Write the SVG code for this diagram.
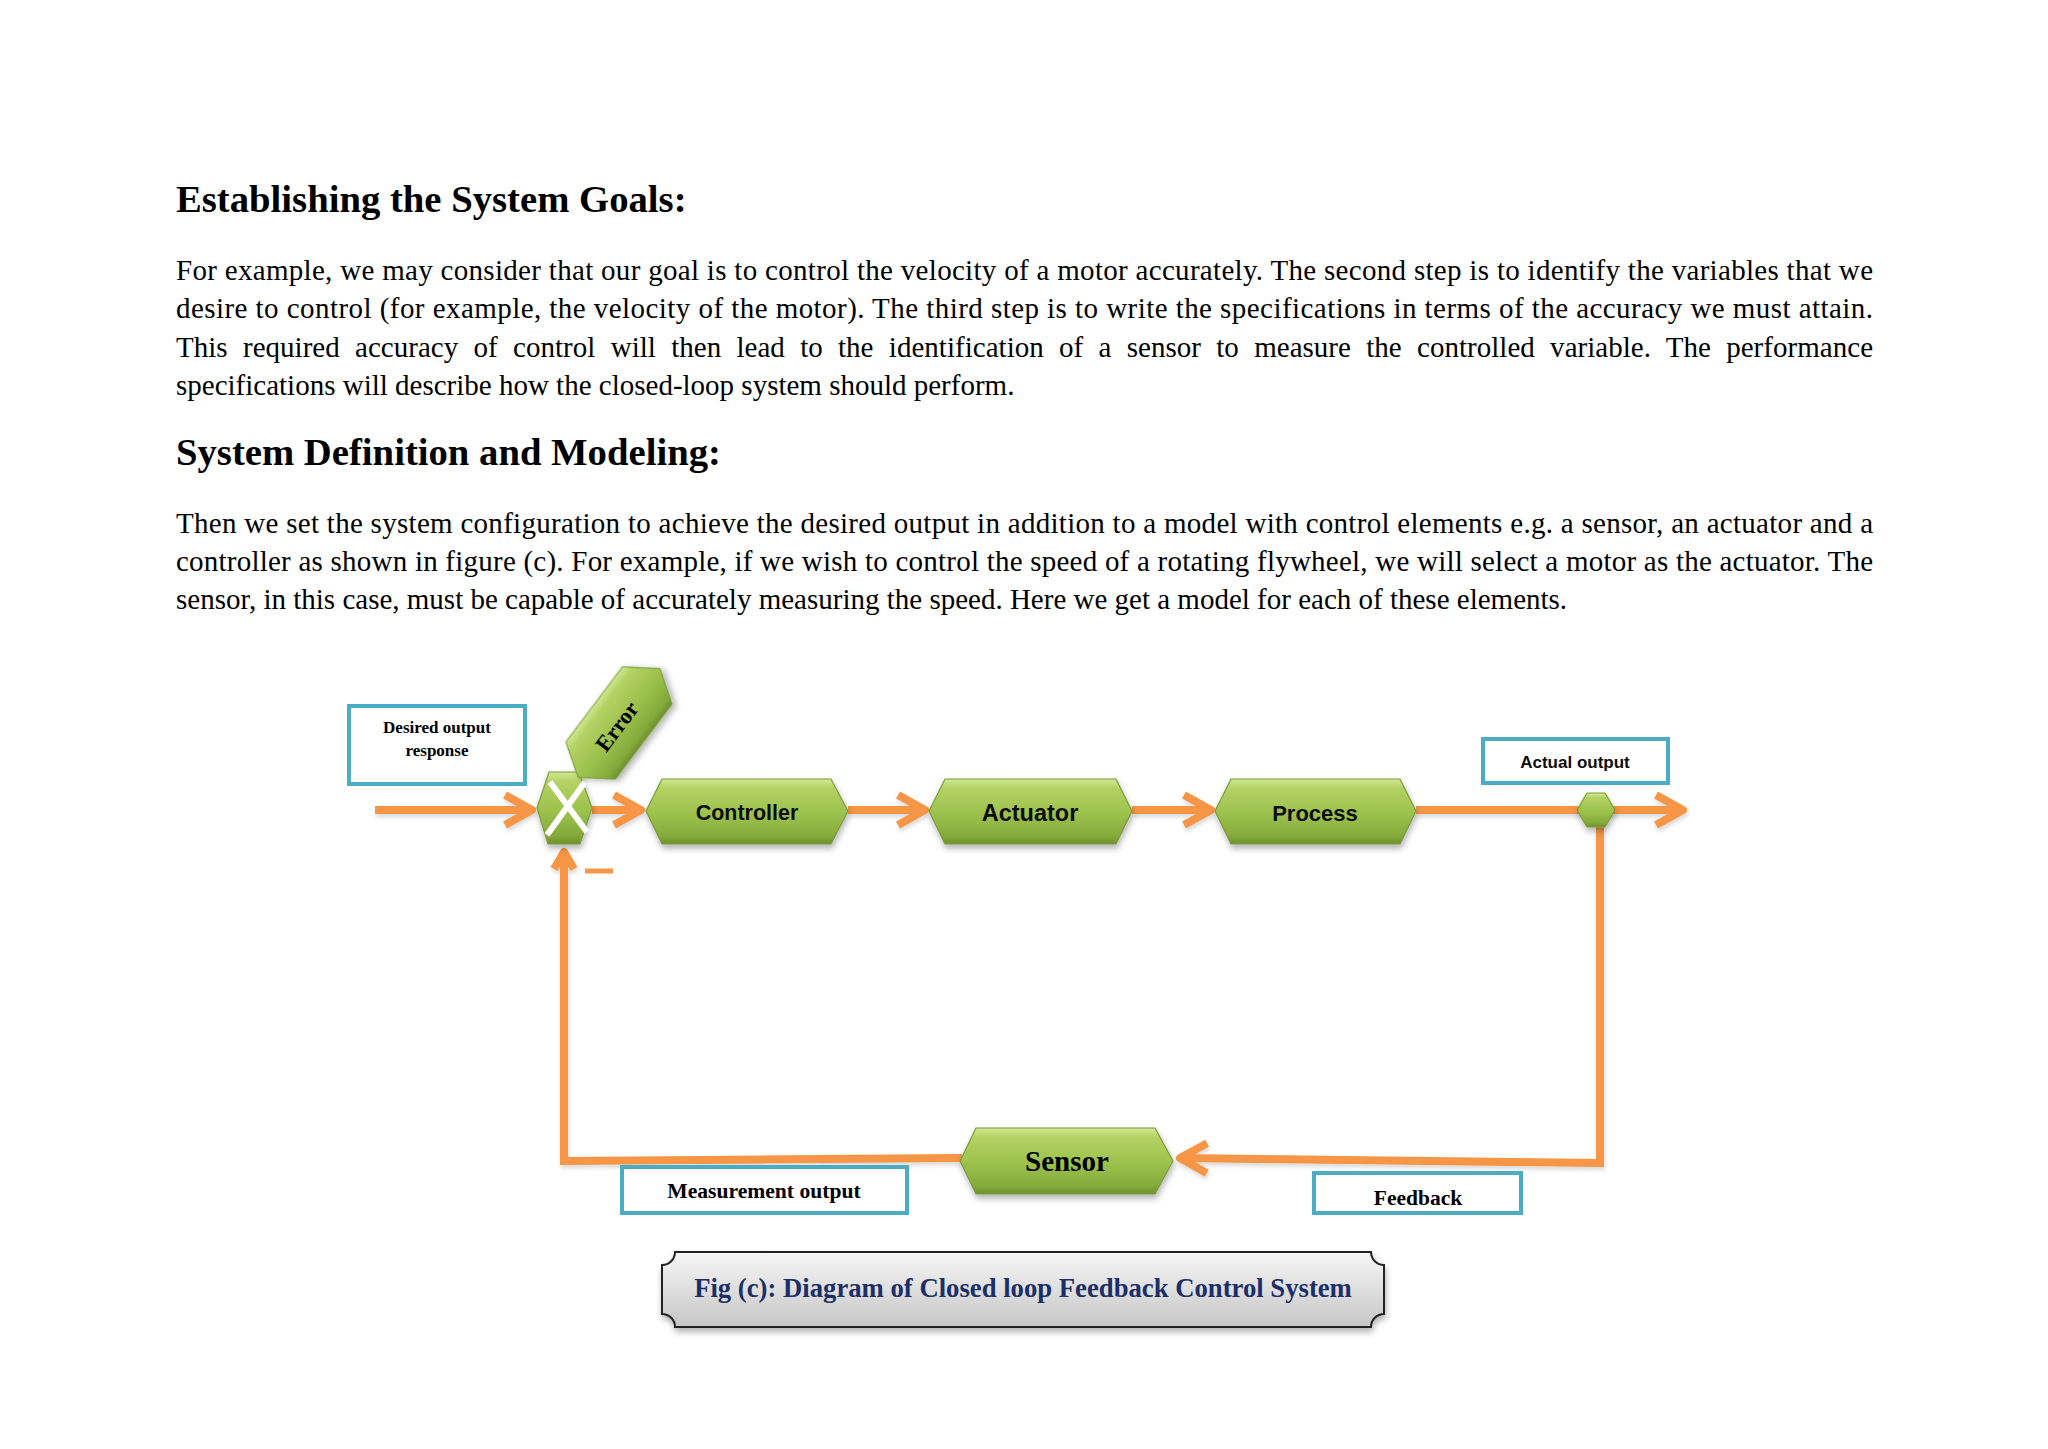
<svg xmlns="http://www.w3.org/2000/svg" width="2048" height="1449" viewBox="0 0 2048 1449">
<style>
.h{font-family:"Liberation Serif","Times New Roman",serif;font-weight:bold;font-size:38.7px;fill:#000}
.p{font-family:"Liberation Serif","Times New Roman",serif;font-size:29px;fill:#000}
.lbl{font-family:"Liberation Serif","Times New Roman",serif;font-weight:bold;fill:#000;text-anchor:middle}
.nd{font-family:"Liberation Sans",Arial,sans-serif;font-weight:bold;text-anchor:middle;fill:#0d0d0d}
.box{fill:#fff;stroke:#4BACC6;stroke-width:4}
.hex{fill:url(#gg);stroke:#7B9B3A;stroke-width:1.2;filter:url(#sh)}
.ln{fill:none;stroke:#F79646;stroke-width:8;stroke-linejoin:miter;filter:url(#lsh)}
</style>
<defs>
<linearGradient id="gg" x1="0" y1="0" x2="0" y2="1">
<stop offset="0" stop-color="#D2E893"/>
<stop offset="0.14" stop-color="#B3D264"/>
<stop offset="0.55" stop-color="#9CC14C"/>
<stop offset="0.88" stop-color="#84AA3B"/>
<stop offset="1" stop-color="#6C902E"/>
</linearGradient>
<linearGradient id="cg" x1="0" y1="0" x2="0" y2="1">
<stop offset="0" stop-color="#F7F7F7"/>
<stop offset="1" stop-color="#C6C6C6"/>
</linearGradient>
<filter id="sh" x="-20%" y="-30%" width="140%" height="170%">
<feDropShadow dx="1" dy="4" stdDeviation="3" flood-color="#000" flood-opacity="0.3"/>
</filter>
<filter id="lsh" filterUnits="userSpaceOnUse" x="0" y="0" width="2048" height="1449">
<feDropShadow dx="1" dy="3" stdDeviation="2" flood-color="#000" flood-opacity="0.15"/>
</filter>
<marker id="ah" markerUnits="userSpaceOnUse" viewBox="-40 -25 50 50" markerWidth="50" markerHeight="50" refX="0" refY="0" orient="auto">
<path d="M-27,-15 L0,0 L-27,15" fill="none" stroke="#F79646" stroke-width="8" stroke-linejoin="round"/>
</marker>
<marker id="ahs" markerUnits="userSpaceOnUse" viewBox="-40 -25 50 50" markerWidth="50" markerHeight="50" refX="0" refY="0" orient="auto">
<path d="M-17,-10 L0,0 L-17,10" fill="none" stroke="#F79646" stroke-width="8" stroke-linejoin="round"/>
</marker>
</defs>
<rect width="2048" height="1449" fill="#fff"/>

<g id="text">
<text class="h" x="176" y="212">Establishing the System Goals:</text>
<text class="p" x="176" y="279.5" textLength="1697" lengthAdjust="spacing">For example, we may consider that our goal is to control the velocity of a motor accurately. The second step is to identify the variables that we</text>
<text class="p" x="176" y="318" textLength="1697" lengthAdjust="spacing">desire to control (for example, the velocity of the motor). The third step is to write the specifications in terms of the accuracy we must attain.</text>
<text class="p" x="176" y="356.5" word-spacing="8" textLength="1697" lengthAdjust="spacing">This required accuracy of control will then lead to the identification of a sensor to measure the controlled variable. The performance</text>
<text class="p" x="176" y="395">specifications will describe how the closed-loop system should perform.</text>
<text class="h" x="176" y="465">System Definition and Modeling:</text>
<text class="p" x="176" y="532.5" textLength="1697" lengthAdjust="spacing">Then we set the system configuration to achieve the desired output in addition to a model with control elements e.g. a sensor, an actuator and a</text>
<text class="p" x="176" y="570.5" textLength="1697" lengthAdjust="spacing">controller as shown in figure (c). For example, if we wish to control the speed of a rotating flywheel, we will select a motor as the actuator. The</text>
<text class="p" x="176" y="608.5">sensor, in this case, must be capable of accurately measuring the speed. Here we get a model for each of these elements.</text>
</g>

<g id="connectors">
<path class="ln" d="M375,810 H532" marker-end="url(#ah)"/>
<path class="ln" d="M592,810 H641" marker-end="url(#ah)"/>
<path class="ln" d="M848,810 H925" marker-end="url(#ah)"/>
<path class="ln" d="M1132,810 H1211" marker-end="url(#ah)"/>
<path class="ln" d="M1416,810 H1683" marker-end="url(#ah)"/>
<path class="ln" d="M1600,827 V1163 L1180,1158" marker-end="url(#ah)"/>
<path class="ln" d="M962,1158 L564,1161 V852" marker-end="url(#ahs)"/>
<line x1="585" y1="871" x2="613" y2="871" stroke="#F79646" stroke-width="5"/>
</g>

<g id="desired-output">
<rect class="box" x="349" y="706" width="176" height="78"/>
<text class="lbl" x="437" y="733" font-size="17">Desired output</text>
<text class="lbl" x="437" y="756" font-size="17">response</text>
</g>

<g id="summing-junction">
<polygon class="hex" points="549,772 579,772 592,808 580,844 548,844 537,808"/>
<line x1="547" y1="835" x2="585" y2="782" stroke="#fff" stroke-width="6"/>
<line x1="550" y1="782" x2="587" y2="832" stroke="#fff" stroke-width="6"/>
</g>

<g id="error" transform="translate(619,723) rotate(-53)">
<polygon class="hex" points="-68,0 -47,-31 47,-31 68,0 47,31 -47,31"/>
<text class="lbl" x="-4" y="8" font-size="22.5">Error</text>
</g>

<g id="controller">
<polygon class="hex" points="646,811 662,779 831,779 848,811 831,844 662,844"/>
<text class="nd" x="747" y="820" font-size="21.5">Controller</text>
</g>

<g id="actuator">
<polygon class="hex" points="929,811 945,779 1116,779 1132,811 1116,844 945,844"/>
<text class="nd" x="1030" y="821" font-size="23.5">Actuator</text>
</g>

<g id="process">
<polygon class="hex" points="1215,811 1231,779 1400,779 1416,811 1400,844 1231,844"/>
<text class="nd" x="1315" y="821" font-size="22">Process</text>
</g>

<g id="output-point">
<polygon class="hex" points="1577,810 1587,793 1605,793 1615,810 1605,827 1587,827"/>
</g>

<g id="actual-output">
<rect class="box" x="1483" y="739" width="185" height="44"/>
<text class="nd" x="1575" y="768" font-size="17">Actual output</text>
</g>

<g id="sensor">
<polygon class="hex" points="960,1161 976,1128 1155,1128 1173,1161 1155,1194 976,1194"/>
<text class="lbl" x="1067" y="1171" font-size="29">Sensor</text>
</g>

<g id="measurement-output">
<rect class="box" x="622" y="1167" width="285" height="46"/>
<text class="lbl" x="764" y="1198" font-size="21.6">Measurement output</text>
</g>

<g id="feedback">
<rect class="box" x="1314" y="1173" width="207" height="40"/>
<text class="lbl" x="1418" y="1205" font-size="21.5">Feedback</text>
</g>

<g id="caption">
<path d="M675,1252 H1371 A13,13 0 0 0 1384,1265 V1314 A13,13 0 0 0 1371,1327 H675 A13,13 0 0 0 662,1314 V1265 A13,13 0 0 0 675,1252 Z" fill="url(#cg)" stroke="#222" stroke-width="2" filter="url(#sh)"/>
<text class="lbl" x="1023" y="1297" font-size="26.7" style="fill:#1C2F66">Fig (c): Diagram of Closed loop Feedback Control System</text>
</g>
</svg>
